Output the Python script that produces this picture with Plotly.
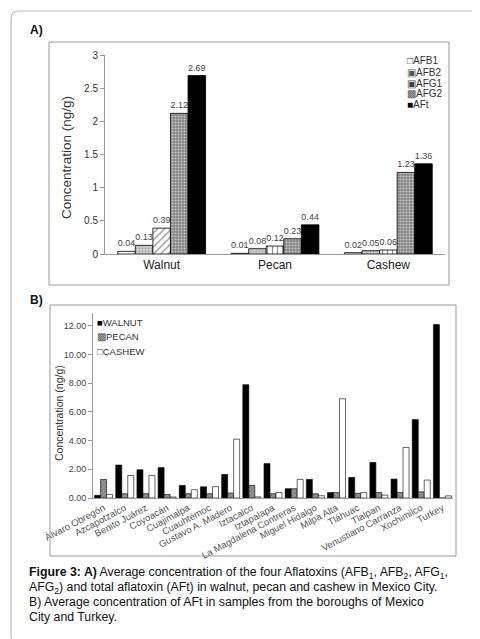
import plotly.graph_objects as go

W, H = 480, 639

# Panel A: average aflatoxin concentration by nut (ng/g)
nuts = ["Walnut", "Pecan", "Cashew"]
afb1 = [0.04, 0.01, 0.02]
afb2 = [0.13, 0.08, 0.05]
afg1 = [0.39, 0.12, 0.06]
afg2 = [2.12, 0.23, 1.23]
aft = [2.69, 0.44, 1.36]
toxins = ["AFB1", "AFB2", "AFG1", "AFG2", "AFt"]

# Panel B: AFt by borough (ng/g)
boroughs = ["Álvaro Obregón", "Azcapotzalco", "Benito Juárez", "Coyoacán",
            "Cuajimalpa", "Cuauhtémoc", "Gustavo A. Madero", "Iztacalco",
            "Iztapalapa", "La Magdalena Contreras", "Miguel Hidalgo",
            "Milpa Alta", "Tláhuac", "Tlalpan", "Venustiano Carranza",
            "Xochimilco", "Turkey"]
walnut = [0.19, 2.30, 1.97, 2.12, 0.88, 0.78, 1.64, 7.90, 2.40, 0.65,
          1.30, 0.38, 1.43, 2.48, 1.32, 5.47, 12.10]
pecan = [1.30, 0.30, 0.30, 0.25, 0.30, 0.30, 0.35, 0.88, 0.30, 0.65,
         0.30, 0.38, 0.33, 0.38, 0.38, 0.43, 0.00]
cashew = [0.25, 1.57, 1.57, 0.07, 0.58, 0.79, 4.10, 0.08, 0.38, 1.30,
          0.16, 6.92, 0.38, 0.20, 3.52, 1.25, 0.15]
nut_names = ["WALNUT", "PECAN", "CASHEW"]

FONT = "Liberation Sans, Arial, sans-serif"


def px(x):
    return x / W


def py(y):
    return 1 - y / H


fig = go.Figure()

# ---- panel A bars
styles_a = [
    dict(color="white"),
    dict(color="#c8c8c8", pattern=dict(shape=".", fgcolor="#777", bgcolor="#d0d0d0", size=3, solidity=0.3)),
    dict(color="white", pattern=dict(shape=["/", "|", "|"], fgcolor="#222", bgcolor="white", size=5, solidity=0.25)),
    dict(color="#999", pattern=dict(shape=".", fgcolor="white", bgcolor="#858585", size=3, solidity=0.4)),
    dict(color="black"),
]
series_a = [afb1, afb2, afg1, afg2, aft]
bw = 0.155
for i, (name, vals, st) in enumerate(zip(toxins, series_a, styles_a)):
    fig.add_trace(go.Bar(
        x=nuts, y=vals, name=name, xaxis="x", yaxis="y", showlegend=False,
        width=bw, offset=-2.5 * bw + i * bw,
        marker=dict(line=dict(color="black", width=0.8), **st),
        text=[f"{v:.2f}" for v in vals], textposition="outside",
        textfont=dict(size=9, color="#444", family=FONT), cliponaxis=False,
    ))

# ---- panel B bars
styles_b = [
    dict(color="black"),
    dict(color="#888", pattern=dict(shape="x", fgcolor="#222", bgcolor="#999", size=3, solidity=0.3)),
    dict(color="white"),
]
for name, vals, st in zip(nut_names, [walnut, pecan, cashew], styles_b):
    fig.add_trace(go.Bar(
        x=boroughs, y=vals, name=name, xaxis="x2", yaxis="y2", showlegend=False,
        marker=dict(line=dict(color="black", width=0.6), **st),
    ))

axis_common = dict(showgrid=False, zeroline=False, linecolor="#999", linewidth=1,
                   ticks="outside", tickcolor="#999", ticklen=4, automargin=False)

fig.update_layout(
    width=W, height=H, margin=dict(l=0, r=0, t=0, b=0, autoexpand=False),
    paper_bgcolor="white", plot_bgcolor="white",
    font=dict(family=FONT, color="#333"),
    barmode="group", bargap=0.15, bargroupgap=0,
    xaxis=dict(domain=[px(97), px(437)], anchor="y", showline=True, ticks="",
               tickfont=dict(size=12, color="#222"), showgrid=False, linecolor="#999",
               automargin=False),
    yaxis=dict(domain=[py(246), py(47)], anchor="x", range=[0, 3], dtick=0.5,
               tickfont=dict(size=10, color="#333"), showline=True, **axis_common),
    xaxis2=dict(domain=[px(85), px(445)], anchor="y2", showline=True, ticks="",
                tickangle=-28, tickfont=dict(size=9.5, color="#555"),
                showgrid=False, linecolor="#999", automargin=False),
    yaxis2=dict(domain=[py(490), py(305)], anchor="x2", range=[0, 12.9], dtick=2,
                tickformat=".2f", tickfont=dict(size=9, color="#444"), showline=True,
                **axis_common),
    showlegend=False,
)

# frames: outer rounded border and the two panel boxes
r = 8
x0, x1, y0, y1 = 3, 477, 3, 636
path = (f"M {px(x0 + r)} {py(y0)} L {px(x1 - r)} {py(y0)} Q {px(x1)} {py(y0)} {px(x1)} {py(y0 + r)} "
        f"L {px(x1)} {py(y1 - r)} Q {px(x1)} {py(y1)} {px(x1 - r)} {py(y1)} "
        f"L {px(x0 + r)} {py(y1)} Q {px(x0)} {py(y1)} {px(x0)} {py(y1 - r)} "
        f"L {px(x0)} {py(y0 + r)} Q {px(x0)} {py(y0)} {px(x0 + r)} {py(y0)} Z")
shapes = [
    dict(type="path", xref="paper", yref="paper", path=path, line=dict(color="#bbb", width=1.2)),
    dict(type="rect", xref="paper", yref="paper", x0=px(41), x1=px(441), y0=py(277), y1=py(34),
         line=dict(color="#999", width=1)),
    dict(type="rect", xref="paper", yref="paper", x0=px(42), x1=px(448), y0=py(548), y1=py(297),
         line=dict(color="#999", width=1)),
]
fig.update_layout(shapes=shapes)


def note(x, y, text, size, color="#333", xanchor="left", angle=0, bold=False):
    fig.add_annotation(x=px(x), y=py(y), xref="paper", yref="paper",
                       text=f"<b>{text}</b>" if bold else text, textangle=angle,
                       showarrow=False, xanchor=xanchor, yanchor="middle",
                       font=dict(size=size, color=color, family=FONT))


# axis titles
note(58, 150, "Concentration (ng/g)", 13.5, xanchor="center", angle=-90)
note(51, 405, "Concentration (ng/g)", 10.5, xanchor="center", angle=-90)

# legend keys, drawn as small square glyphs like the original
keys_a = [("□", "#444"), ("▣", "#555"), ("▣", "#444"), ("▩", "#555"), ("■", "#000")]
for k, ((g, c), n) in enumerate(zip(keys_a, toxins)):
    note(397, 53 + 11 * k, f"<span style='color:{c}'>{g}</span>{n}", 10)
keys_b = [("■", "#000"), ("▩", "#555"), ("□", "#444")]
for k, ((g, c), n) in enumerate(zip(keys_b, nut_names)):
    note(87, 314 + 14.5 * k, f"<span style='color:{c}'>{g}</span>{n}", 9.5)

# panel letters and caption
note(20, 22, "A)", 12, color="#111", bold=True)
note(20, 292, "B)", 12, color="#111", bold=True)
caption_lines = [
    "<b>Figure 3: A)</b> Average concentration of the four Aflatoxins (AFB<sub>1</sub>, AFB<sub>2</sub>, AFG<sub>1</sub>,",
    "AFG<sub>2</sub>) and total aflatoxin (AFt) in walnut, pecan and cashew in Mexico City.",
    "B) Average concentration of AFt in samples from the boroughs of Mexico",
    "City and Turkey.",
]
for k, line in enumerate(caption_lines):
    note(19, 565 + 14.5 * k, line, 12.3, color="#111")

fig.write_html("out.html")
